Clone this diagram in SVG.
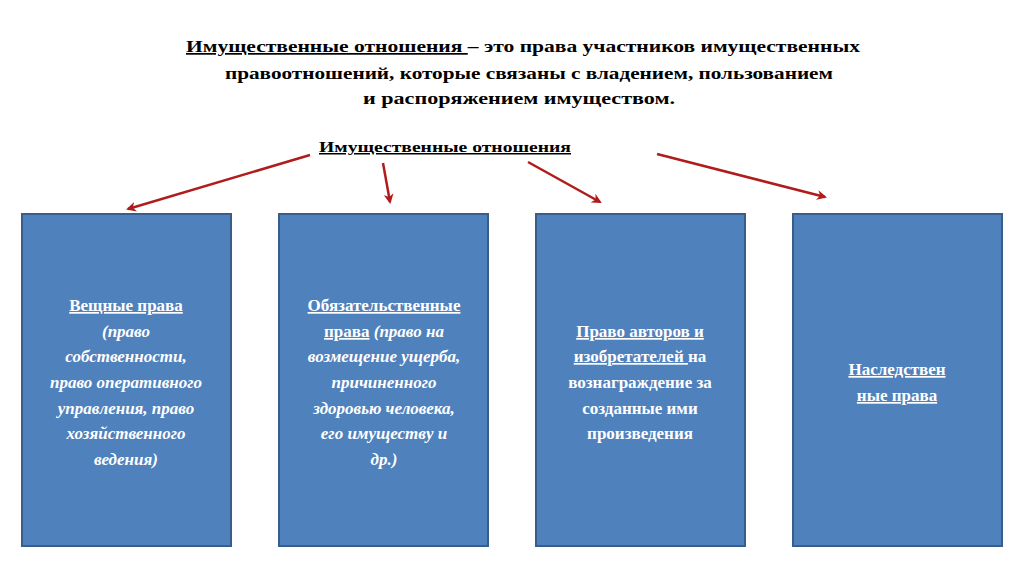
<svg xmlns="http://www.w3.org/2000/svg" width="1024" height="574" viewBox="0 0 1024 574">
<style>
.t{font-family:"Liberation Serif",serif;font-weight:bold;fill:#000;text-anchor:middle}
.b{fill:#4f81bd;stroke:#385d8a;stroke-width:2}
.w{font-family:"Liberation Serif",serif;font-weight:bold;fill:#fff;text-anchor:middle;font-size:17px}
.i{font-style:italic}
.c{stroke:#b01c1c;stroke-width:2.5;fill:none;marker-end:url(#a)}
</style>
<defs><marker id="a" markerWidth="10" markerHeight="10" refX="8" refY="5" orient="auto" markerUnits="userSpaceOnUse"><path d="M0,0 L10,5 L0,10 L3,5 z" fill="#b01c1c"/></marker></defs>
<rect width="1024" height="574" fill="#fff"/>
<g id="title">
<text class="t" x="523" y="52" font-size="17" textLength="674" lengthAdjust="spacingAndGlyphs"><tspan text-decoration="underline">Имущественные отношения </tspan>– это права  участников имущественных</text>
<text class="t" x="529" y="79" font-size="17" textLength="608" lengthAdjust="spacingAndGlyphs">правоотношений, которые связаны с владением, пользованием</text>
<text class="t" x="519" y="104" font-size="17" textLength="312" lengthAdjust="spacingAndGlyphs">и распоряжением имуществом.</text>
</g>
<g id="root"><text class="t" x="445" y="152" font-size="15" text-decoration="underline" textLength="252" lengthAdjust="spacingAndGlyphs">Имущественные отношения </text></g>
<g id="connectors">
<line class="c" x1="310" y1="155" x2="128" y2="209"/>
<line class="c" x1="383" y1="163" x2="390" y2="202"/>
<line class="c" x1="528" y1="162" x2="600" y2="202"/>
<line class="c" x1="657" y1="154" x2="825" y2="197"/>
</g>
<g id="n1"><rect class="b" x="22" y="214" width="209" height="332"/>
<text class="w"><tspan x="126" y="311" text-decoration="underline">Вещные права</tspan><tspan class="i" x="126" y="337">(право</tspan><tspan class="i" x="126" y="362">собственности,</tspan><tspan class="i" x="126" y="388">право оперативного</tspan><tspan class="i" x="126" y="414">управления, право</tspan><tspan class="i" x="126" y="439">хозяйственного</tspan><tspan class="i" x="126" y="465">ведения)</tspan></text></g>
<g id="n2"><rect class="b" x="279" y="214" width="209" height="332"/>
<text class="w"><tspan x="384" y="311" text-decoration="underline">Обязательственные</tspan><tspan x="384" y="337"><tspan text-decoration="underline">права</tspan><tspan class="i"> (право на</tspan></tspan><tspan class="i" x="384" y="362">возмещение ущерба,</tspan><tspan class="i" x="384" y="388">причиненного</tspan><tspan class="i" x="384" y="414">здоровью человека,</tspan><tspan class="i" x="384" y="439">его имуществу и</tspan><tspan class="i" x="384" y="465">др.)</tspan></text></g>
<g id="n3"><rect class="b" x="536" y="214" width="209" height="332"/>
<text class="w"><tspan x="640" y="337" text-decoration="underline">Право авторов и</tspan><tspan x="640" y="362"><tspan text-decoration="underline">изобретателей </tspan>на</tspan><tspan x="640" y="388">вознаграждение за</tspan><tspan x="640" y="414">созданные ими</tspan><tspan x="640" y="439">произведения</tspan></text></g>
<g id="n4"><rect class="b" x="793" y="214" width="209" height="332"/>
<text class="w" text-decoration="underline"><tspan x="897" y="375">Наследствен</tspan><tspan x="897" y="401">ные права</tspan></text></g>
</svg>
